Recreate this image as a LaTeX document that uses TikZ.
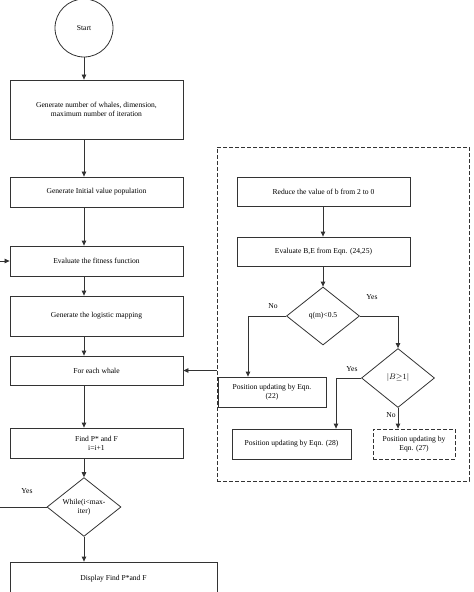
\documentclass[tikz,border=0pt]{standalone}
\usepackage{fontspec}
\setmainfont{Liberation Serif}
\usetikzlibrary{shapes.geometric,arrows.meta}
\begin{document}
\begin{tikzpicture}[x=1bp,y=-1bp,
  font=\fontsize{7.6}{9}\selectfont,
  line/.style={draw=black!80, line width=0.8bp},
  arr/.style={line, -{Triangle[length=5bp,width=4.5bp]}},
  dsh/.style={dash pattern=on 4bp off 2bp},
  box/.style={draw=black!80, line width=0.8bp, rectangle, inner sep=1bp, align=center},
  dia/.style={draw=black!80, line width=0.8bp, diamond, inner sep=0pt, align=center},
  lab/.style={inner sep=0pt}]
\useasboundingbox (0,0) rectangle (474,592);
\clip (0,0) rectangle (474,592);
% main column
\node[draw=black!80, line width=0.8bp, circle, minimum size=58bp, inner sep=0pt] (start) at (84,28) {Start};
\node[box, minimum width=173bp, minimum height=59bp] (b1) at (96.5,109.5) {Generate number of whales, dimension,\\maximum number of iteration};
\node[box, minimum width=173bp, minimum height=30bp] (b2) at (96.5,192) {Generate Initial value population};
\node[box, minimum width=173bp, minimum height=30bp] (b3) at (96.5,261) {Evaluate the fitness function};
\node[box, minimum width=173bp, minimum height=40bp] (b4) at (96.5,316) {Generate the logistic mapping};
\node[box, minimum width=173bp, minimum height=29bp] (b5) at (96.5,370.5) {For each whale};
\node[box, minimum width=173bp, minimum height=30bp] (b6) at (96.5,443) {Find P* and F\\i=i+1};
\node[dia, minimum width=74bp, minimum height=51bp] (w) at (84,507) {While(i<max-\\iter)};
\node[box, minimum width=207bp, minimum height=44bp, text depth=12bp] (b7) at (113.5,584) {Display Find P*and F};
\draw[arr] (start) -- (start |- b1.north);
\draw[arr] (start |- b1.south) -- (start |- b2.north);
\draw[arr] (start |- b2.south) -- (start |- b3.north);
\draw[arr] (start |- b3.south) -- (start |- b4.north);
\draw[arr] (start |- b4.south) -- (start |- b5.north);
\draw[arr] (start |- b5.south) -- (start |- b6.north);
\draw[arr] (start |- b6.south) -- (w.north);
\draw[arr] (w.south) -- (start |- b7.north);
\draw[arr] (w.west) -- (-10,507) -- (-10,261) -- (b3.west);
\node[lab] (yesw) at (27,491) {Yes};
% dashed region
\node[draw=black!80, line width=0.8bp, dsh, rectangle, minimum width=252bp, minimum height=334bp, inner sep=0pt] (loop) at (343,314) {};
\node[box, minimum width=173bp, minimum height=29bp] (r1) at (323.5,191.5) {Reduce the value of b from 2 to 0};
\node[box, minimum width=173bp, minimum height=29bp] (r2) at (323.5,251.5) {Evaluate B,E from Eqn. (24,25)};
\node[dia, minimum width=73bp, minimum height=58bp] (d1) at (323,316) {q(m)<0.5};
\node[box, minimum width=108bp, minimum height=30bp] (p22) at (272,392) {Position updating by Eqn.\\(22)};
\node[dia, minimum width=73bp, minimum height=59bp] (d2) at (398,378) {$\left|B\mathord{\geq}1\right|$};
\node[box, minimum width=119bp, minimum height=30bp] (p28) at (291.5,444) {Position updating by Eqn. (28)};
\node[box, dsh, minimum width=82bp, minimum height=30bp] (p27) at (414,444) {Position updating by\\Eqn. (27)};
\draw[arr] (d1 |- r1.south) -- (d1 |- r2.north);
\draw[arr] (d1 |- r2.south) -- (d1.north);
\draw[arr] (d1.west) -| (248,0 |- p22.north);
\draw[arr] (d1.east) -| (d2.north);
\draw[arr] (d2.west) -| (336,0 |- p28.north);
\draw[arr] (d2.south) -- (d2 |- p27.north);
\draw[arr] (loop.west |- b5) -- (b5.east);
\node[lab] (no1) at (273,306) {No};
\node[lab] (yes1) at (372,297) {Yes};
\node[lab] (yes2) at (352,369) {Yes};
\node[lab] (no2) at (391,415) {No};
\end{tikzpicture}
\end{document}
